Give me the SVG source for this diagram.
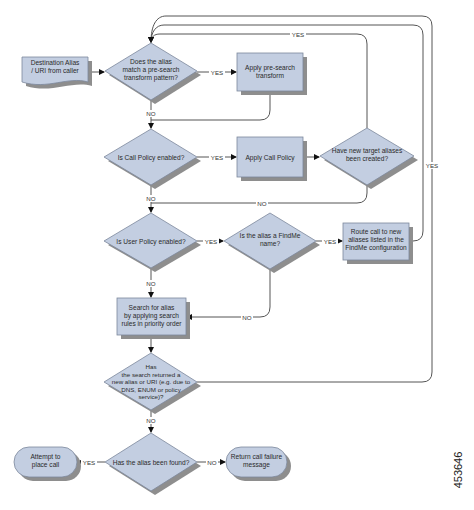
<svg xmlns="http://www.w3.org/2000/svg" width="474" height="510" viewBox="0 0 474 510">
<defs>
<marker id="ah" markerWidth="6" markerHeight="6" refX="5" refY="3" orient="auto" markerUnits="userSpaceOnUse">
<path d="M0,0 L6,3 L0,6 Z" fill="#111"/>
</marker>
<style>
.sh{fill:#8e8e8e}
.nd{fill:#c3cee1;stroke:#7c889c;stroke-width:0.8}
.t{font-family:"Liberation Sans",Arial,sans-serif;font-size:6.6px;fill:#2a2a2a;text-anchor:middle}
.c{fill:none;stroke:#555;stroke-width:1}
.a{marker-end:url(#ah)}
.lb{font-family:"Liberation Sans",Arial,sans-serif;font-size:6.2px;fill:#333;text-anchor:middle}
.bg{fill:#fff}
</style>
</defs>
<rect width="474" height="510" fill="#fff"/>

<g id="connectors">
<path class="c a" d="M88,72 H104"/>
<path class="c a" d="M197,72 H236"/>
<path class="c" d="M270,91 V110 Q270,120 260,120 H151"/>
<path class="c a" d="M151,100 V128"/>
<path class="c a" d="M197,157 H236"/>
<path class="c a" d="M303,157 H319"/>
<path class="c" d="M367,185 V193 Q367,203 357,203 H151"/>
<path class="c a" d="M151,185 V212"/>
<path class="c a" d="M197,241 H223"/>
<path class="c a" d="M316,241 H342"/>
<path class="c a" d="M270,269 V307 Q270,317 260,317 H187"/>
<path class="c a" d="M151,268 V297"/>
<path class="c a" d="M151,335 V352"/>
<path class="c a" d="M151,410 V432"/>
<path class="c a" d="M105,462 H78"/>
<path class="c a" d="M197,462 H225"/>
<path class="c a" d="M197,382 H422 Q432,382 432,372 V26 Q432,16 422,16 H166 C156,16 151,26 151,42"/>
<path class="c a" d="M409,241 H413 Q423,241 423,231 V35 Q423,25 413,25 H164 C156,25 151,32 151,42"/>
<path class="c a" d="M367,128 V44 Q367,34 357,34 H160 C154,34 151,37 151,42"/>
<g>
<rect class="bg" x="290" y="31" width="16" height="7"/><text class="lb" x="298" y="36.5">YES</text>
<rect class="bg" x="209" y="69" width="16" height="7"/><text class="lb" x="217" y="74.5">YES</text>
<rect class="bg" x="145" y="110" width="12" height="7"/><text class="lb" x="151" y="115.5">NO</text>
<rect class="bg" x="209" y="154" width="16" height="7"/><text class="lb" x="217" y="159.5">YES</text>
<rect class="bg" x="424" y="162" width="16" height="7"/><text class="lb" x="432" y="167.5">YES</text>
<rect class="bg" x="145" y="195" width="12" height="7"/><text class="lb" x="151" y="200.5">NO</text>
<rect class="bg" x="256" y="200" width="12" height="7"/><text class="lb" x="262" y="205.5">NO</text>
<rect class="bg" x="203" y="238" width="16" height="7"/><text class="lb" x="211" y="243.5">YES</text>
<rect class="bg" x="322" y="238" width="16" height="7"/><text class="lb" x="330" y="243.5">YES</text>
<rect class="bg" x="145" y="280" width="12" height="7"/><text class="lb" x="151" y="285.5">NO</text>
<rect class="bg" x="241" y="314" width="12" height="7"/><text class="lb" x="247" y="319.5">NO</text>
<rect class="bg" x="145" y="417" width="12" height="7"/><text class="lb" x="151" y="422.5">NO</text>
<rect class="bg" x="81" y="459" width="16" height="7"/><text class="lb" x="89" y="464.5">YES</text>
<rect class="bg" x="206" y="459" width="12" height="7"/><text class="lb" x="212" y="464.5">NO</text>
</g>
</g>

<g id="n-dest">
<path class="sh" d="M26,61 H92 V86 C72,80 52,94 26,86 Z"/>
<path class="nd" d="M22,57 H88 V82 C68,76 48,90 22,82 Z"/>
<text class="t" x="55" y="65">Destination Alias</text>
<text class="t" x="55" y="73">/ URI from caller</text>
</g>

<g id="n-d1">
<polygon class="sh" points="155,47 201,75 155,104 109,75"/>
<polygon class="nd" points="151,43 197,71 151,100 105,71"/>
<text class="t" x="151" y="64">Does the alias</text>
<text class="t" x="151" y="72">match a pre-search</text>
<text class="t" x="151" y="80">transform pattern?</text>
</g>

<g id="n-b1">
<rect class="sh" x="241" y="57" width="66" height="38"/>
<rect class="nd" x="237" y="53" width="66" height="38"/>
<text class="t" x="270" y="70">Apply pre-search</text>
<text class="t" x="270" y="78">transform</text>
</g>

<g id="n-d2">
<polygon class="sh" points="155,133 201,161 155,189 108,161"/>
<polygon class="nd" points="151,129 197,157 151,185 104,157"/>
<text class="t" x="151" y="159.5">Is Call Policy enabled?</text>
</g>

<g id="n-b2">
<rect class="sh" x="241" y="141" width="66" height="40"/>
<rect class="nd" x="237" y="137" width="66" height="40"/>
<text class="t" x="270" y="159.5">Apply Call Policy</text>
</g>

<g id="n-d3">
<polygon class="sh" points="371,132 418,160 371,189 324,160"/>
<polygon class="nd" points="367,128 414,156 367,185 320,156"/>
<text class="t" x="367" y="153">Have new target aliases</text>
<text class="t" x="367" y="161">been created?</text>
</g>

<g id="n-d4">
<polygon class="sh" points="155,217 201,245 155,272 108,245"/>
<polygon class="nd" points="151,213 197,241 151,268 104,241"/>
<text class="t" x="151" y="243.5">Is User Policy enabled?</text>
</g>

<g id="n-d5">
<polygon class="sh" points="274,217 320,245 274,273 228,245"/>
<polygon class="nd" points="270,213 316,241 270,269 224,241"/>
<text class="t" x="270" y="238">Is the alias a FindMe</text>
<text class="t" x="270" y="246">name?</text>
</g>

<g id="n-b3">
<rect class="sh" x="347" y="227" width="66" height="37"/>
<rect class="nd" x="343" y="223" width="66" height="37"/>
<text class="t" x="376" y="234">Route call to new</text>
<text class="t" x="376" y="242">aliases listed in the</text>
<text class="t" x="376" y="250">FindMe configuration</text>
</g>

<g id="n-b4">
<rect class="sh" x="121" y="302" width="69" height="37"/>
<rect class="nd" x="117" y="298" width="69" height="37"/>
<text class="t" x="151.5" y="310">Search for alias</text>
<text class="t" x="151.5" y="318">by applying search</text>
<text class="t" x="151.5" y="326">rules in priority order</text>
</g>

<g id="n-d6">
<polygon class="sh" points="155,357 201,386 155,414 108,386"/>
<polygon class="nd" points="151,353 197,382 151,410 104,382"/>
<text class="t" x="151" y="369" style="font-size:6.2px">Has</text>
<text class="t" x="151" y="376.5" style="font-size:6.2px">the search returned a</text>
<text class="t" x="151" y="384" style="font-size:6.2px">new alias or URI (e.g. due to</text>
<text class="t" x="151" y="391.5" style="font-size:6.2px">DNS, ENUM or policy</text>
<text class="t" x="151" y="399" style="font-size:6.2px">service)?</text>
</g>

<g id="n-d7">
<polygon class="sh" points="155,437 201,466 155,495 109,466"/>
<polygon class="nd" points="151,433 197,462 151,491 105,462"/>
<text class="t" x="151" y="464.5">Has the alias been found?</text>
</g>

<g id="n-t1">
<rect class="sh" x="18" y="451" width="63" height="30" rx="15"/>
<rect class="nd" x="14" y="447" width="63" height="30" rx="15"/>
<text class="t" x="45.5" y="459">Attempt to</text>
<text class="t" x="45.5" y="467">place call</text>
</g>

<g id="n-t2">
<rect class="sh" x="230" y="451" width="61" height="30" rx="15"/>
<rect class="nd" x="226" y="447" width="61" height="30" rx="15"/>
<text class="t" x="256.5" y="459">Return call failure</text>
<text class="t" x="256.5" y="467">message</text>
</g>

<text x="462" y="470" transform="rotate(-90 462 470)" style="font-family:'Liberation Sans',Arial,sans-serif;font-size:11px;fill:#222;text-anchor:middle">453646</text>
</svg>
